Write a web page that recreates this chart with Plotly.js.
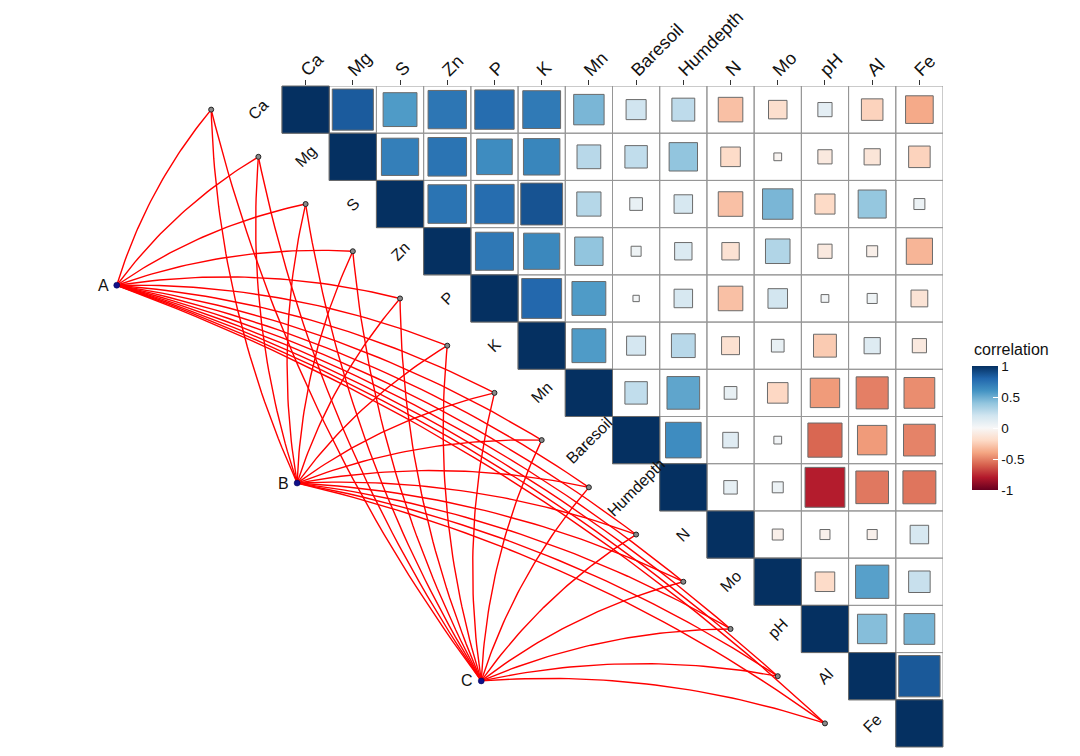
<!DOCTYPE html>
<html>
<head>
<meta charset="utf-8">
<script src="https://cdn.plot.ly/plotly-3.0.1.min.js"></script>
<style>html,body{margin:0;padding:0;background:#fff;}#chart{width:1080px;height:756px;}</style>
</head>
<body>
<div id="chart"></div>
<script>
// ---- data ----
const vars = ["Ca","Mg","S","Zn","P","K","Mn","Baresoil","Humdepth","N","Mo","pH","Al","Fe"];
// upper-triangle correlations, each row starts at its diagonal
const rowCa       = [1, 0.84, 0.57, 0.73, 0.77, 0.71, 0.46, 0.20, 0.26, -0.30, -0.17, 0.10, -0.23, -0.38];
const rowMg       = [1, 0.69, 0.74, 0.63, 0.66, 0.28, 0.25, 0.40, -0.19, -0.03, -0.10, -0.13, -0.23];
const rowS        = [1, 0.74, 0.77, 0.87, 0.29, 0.08, 0.17, -0.30, 0.46, -0.20, 0.39, 0.06];
const rowZn       = [1, 0.72, 0.65, 0.40, 0.05, 0.15, -0.15, 0.30, -0.10, -0.06, -0.34];
const rowP        = [1, 0.79, 0.57, 0.02, 0.17, -0.30, 0.19, 0.03, 0.05, -0.14];
const rowK        = [1, 0.57, 0.18, 0.28, -0.16, 0.08, -0.26, 0.13, -0.10];
const rowMn       = [1, 0.25, 0.53, 0.08, -0.21, -0.43, -0.51, -0.47];
const rowBaresoil = [1, 0.63, 0.12, 0.03, -0.58, -0.43, -0.50];
const rowHumdepth = [1, 0.09, 0.06, -0.79, -0.53, -0.54];
const rowN        = [1, -0.06, -0.05, -0.05, 0.17];
const rowMo       = [1, -0.19, 0.55, 0.23];
const rowpH       = [1, 0.43, 0.47];
const rowAl       = [1, 0.85];
const rowFe       = [1];
const corRows = [rowCa,rowMg,rowS,rowZn,rowP,rowK,rowMn,rowBaresoil,rowHumdepth,rowN,rowMo,rowpH,rowAl,rowFe];

// link groups (A, B, C) positions in grid units
const groupNames = ["A","B","C"];
const groupX = [-4.0, -0.18, 3.72];
const groupY = [3.72, 7.91, 12.1];

const colorTicks = [-1, -0.5, 0, 0.5, 1];
const colorTickText = ["-1", "-0.5", "0", "0.5", "1"];
const legendTitle = "correlation";

// ---- layout geometry ----
const W = 1080, H = 756;
const gridLeftPx = 282, gridRightPx = 943, plotLeftPx = 40;
const mT = 86, mB = 9;
const n = vars.length;
const cellPx = (gridRightPx - gridLeftPx) / n;
const xMin = -0.5 - (gridLeftPx - plotLeftPx) / cellPx;
const plotW = gridRightPx - plotLeftPx, plotH = H - mT - mB;

const rdbu = [
  [0.0,'#67001f'],[0.1,'#b2182b'],[0.2,'#d6604d'],[0.3,'#f4a582'],[0.4,'#fddbc7'],
  [0.5,'#f7f7f7'],[0.6,'#d1e5f0'],[0.7,'#92c5de'],[0.8,'#4393c3'],[0.9,'#2166ac'],[1.0,'#053061']
];

// squares
const sx = [], sy = [], sc = [], ss = [], stxt = [];
corRows.forEach((row, i) => {
  row.forEach((r, k) => {
    const j = i + k;
    sx.push(j); sy.push(i); sc.push(r);
    ss.push(j === i ? cellPx : cellPx * Math.sqrt(Math.abs(r)) * 0.95);
    stxt.push(vars[i] + ' - ' + vars[j] + ': ' + r);
  });
});

// grid shapes
const shapes = [];
for (let i = 0; i < n; i++) {
  for (let j = i; j < n; j++) {
    shapes.push({type:'rect', xref:'x', yref:'y', x0:j-0.5, x1:j+0.5, y0:i-0.5, y1:i+0.5,
      line:{color:'#969696', width:1}, fillcolor:'rgba(0,0,0,0)', layer:'below'});
  }
}

// env nodes
const nodeX = vars.map((v, i) => i - 2);
const nodeY = vars.map((v, i) => i);

// curves
const cx = [], cy = [];
const curv = 0.1;
groupNames.forEach((g, gi) => {
  const x0 = groupX[gi], y0 = groupY[gi];
  nodeX.forEach((nx, k) => {
    const ny = nodeY[k];
    const dx = nx - x0, dy = ny - y0;
    const L = Math.hypot(dx, dy);
    const px = dy / L, py = -dx / L;
    const mx = (x0 + nx) / 2 + px * curv * L;
    const my = (y0 + ny) / 2 + py * curv * L;
    for (let t = 0; t <= 1.0001; t += 1/40) {
      const a = (1-t)*(1-t), b = 2*(1-t)*t, c = t*t;
      cx.push(a*x0 + b*mx + c*nx);
      cy.push(a*y0 + b*my + c*ny);
    }
    cx.push(null); cy.push(null);
  });
});

const traces = [
  {type:'scatter', mode:'lines', x:cx, y:cy, line:{color:'#ff0000', width:1.4}, hoverinfo:'skip', showlegend:false, cliponaxis:false},
  {type:'scatter', mode:'markers', x:nodeX, y:nodeY, marker:{color:'#8a8a8a', size:5, opacity:1, line:{color:'#222', width:1}}, hoverinfo:'skip', showlegend:false, cliponaxis:false},
  {type:'scatter', mode:'markers', x:groupX, y:groupY, marker:{color:'#10108a', size:6, opacity:1, line:{color:'#000050', width:0.5}}, hoverinfo:'skip', showlegend:false, cliponaxis:false},
  {type:'scatter', mode:'markers', x:sx, y:sy, text:stxt, hoverinfo:'text', showlegend:false, cliponaxis:false,
   marker:{symbol:'square', size:ss, opacity:1, color:sc, cmin:-1, cmax:1, colorscale:rdbu,
     line:{color:'#6a6a6a', width:1},
     colorbar:{thickness:26, len:124, lenmode:'pixels', x:(972-plotLeftPx)/plotW, xanchor:'left',
       y:(H - mB - 428)/plotH, yanchor:'middle', xpad:0, ypad:0, outlinewidth:0,
       tickmode:'array', tickvals:colorTicks, ticktext:colorTickText, ticks:'inside', ticklen:5, tickcolor:'#fff',
       tickfont:{size:13.5, color:'#111'}}}}
];

const annotations = [];
vars.forEach((v, i) => {
  annotations.push({x:i-1, y:i, xref:'x', yref:'y', text:v, showarrow:false, textangle:-45, font:{size:16, color:'#111'}});
});
groupNames.forEach((g, gi) => {
  annotations.push({x:groupX[gi], y:groupY[gi], xref:'x', yref:'y', text:g, showarrow:false, xanchor:'right', xshift:-6, font:{size:16, color:'#111'}});
});
annotations.push({x:(972-plotLeftPx)/plotW, y:(H - mB - 349)/plotH, xref:'paper', yref:'paper', text:legendTitle,
  showarrow:false, xanchor:'left', yanchor:'middle', font:{size:16, color:'#111'}});

const layout = {
  width:W, height:H, autosize:false,
  margin:{l:plotLeftPx, r:W-gridRightPx, t:mT, b:mB, pad:0},
  paper_bgcolor:'#fff', plot_bgcolor:'#fff',
  font:{family:'"Liberation Sans", Arial, sans-serif', color:'#111'},
  xaxis:{range:[xMin, n-0.5], side:'top', tickmode:'array', tickvals:vars.map((v,i)=>i), ticktext:vars,
    tickangle:-45, ticks:'outside', ticklen:5, tickcolor:'#333', tickfont:{size:18, color:'#111'},
    ticklabelstandoff:-7, ticklabelshift:-4,
    showgrid:false, zeroline:false, showline:false, fixedrange:true},
  yaxis:{range:[n-0.5, -0.5], visible:false, showgrid:false, zeroline:false, fixedrange:true},
  shapes:shapes, annotations:annotations, hovermode:'closest'
};

Plotly.newPlot('chart', traces, layout, {displayModeBar:false});
</script>
</body>
</html>
